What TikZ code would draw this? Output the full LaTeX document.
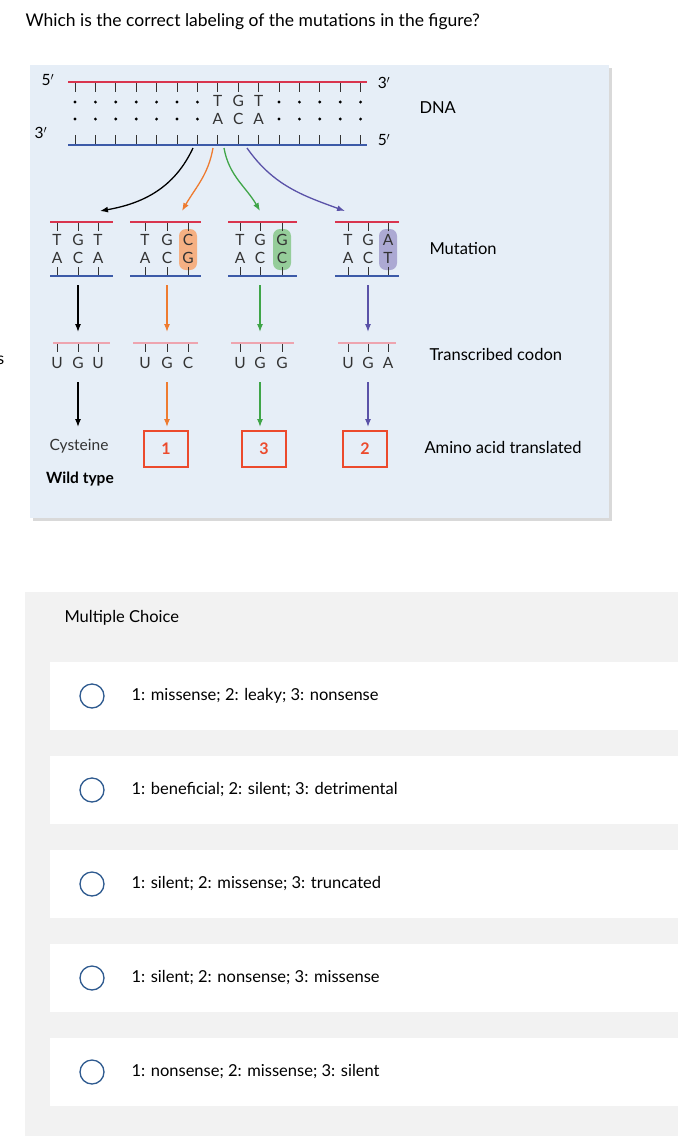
\documentclass[tikz,border=0pt]{standalone}
\usepackage{fontspec}
\setmainfont{Lato}
\usetikzlibrary{arrows.meta}
\begin{document}
\begin{tikzpicture}[x=1pt,y=-1pt,
 base/.style={font=\fontsize{15.5}{17}\selectfont},
 lab/.style={font=\fontsize{16.5}{19}\selectfont,anchor=west},
 nt/.style={font=\fontsize{15.5}{15}\selectfont,inner sep=0pt,text=black!80},
 red/.style={draw=dnared,line width=2.8pt},
 blue/.style={draw=dnablue,line width=2.8pt},
 tk/.style={draw=black!80,line width=0.9pt},
 opt/.style={fill=white,draw=none},
 arr/.style={-{Latex[length=8pt,width=6pt]},line width=1.3pt},
 circ/.style={draw=circblue,line width=1.3pt},
 numbox/.style={draw=boxred,line width=2pt,minimum width=44pt,minimum height=36pt,text=boxred,font=\bfseries\fontsize{16}{16}\selectfont}]
\definecolor{dnared}{HTML}{D9344E}
\definecolor{dnablue}{HTML}{3C5AA8}
\definecolor{panel}{HTML}{E6EEF7}
\definecolor{cor}{HTML}{EE7B30}
\definecolor{cgr}{HTML}{3FA548}
\definecolor{cpu}{HTML}{5A52A8}
\definecolor{boxred}{HTML}{EC4A2C}
\definecolor{circblue}{HTML}{2E5A8F}
\useasboundingbox (0,0) rectangle (678,1136);
\fill[white] (0,0) rectangle (678,1136);
\node[lab,font=\fontsize{17.5}{19}\selectfont] (q) at (22,22) {Which is the correct labeling of the mutations in the figure?};
\node[lab,inner sep=0pt] (s) at (-3,360) {s};
% panel
\fill[black!15] (33,68) rectangle (612,521);
\fill[panel] (30,65) rectangle (609,518);
% top DNA
\draw[red] (68,82) -- (367,82);
\draw[blue] (68,145) -- (367,145);
\foreach \i in {0,...,14}{
 \pgfmathsetmacro\xx{75+\i*20.4}
 \draw[tk] (\xx,83) -- (\xx,92);
 \draw[tk] (\xx,135) -- (\xx,144);
 \ifnum\i<7 \fill (\xx,102) circle (1.6); \fill (\xx,119) circle (1.6);\fi
 \ifnum\i>9 \fill (\xx,102) circle (1.6); \fill (\xx,119) circle (1.6);\fi
}
\node[nt] at (217.8,101) {T};\node[nt] at (238.2,101) {G};\node[nt] at (258.6,101) {T};
\node[nt] at (217.8,119) {A};\node[nt] at (238.2,119) {C};\node[nt] at (258.6,119) {A};
\node[base] at (48,80) {5$'$};\node[base] at (384,83) {3$'$};
\node[base] at (41,133) {3$'$};\node[base] at (384,140) {5$'$};
\coordinate (d1) at (193,148);\coordinate (d2) at (213,148);\coordinate (d3) at (224,148);\coordinate (d4) at (247,148);
% mutation blocks
\foreach \n/\xa/\xb/\pa/\pb/\pc/\ta/\tb/\tc/\ba/\bb/\bc/\hc in {
 a/50/113/57/78/98/T/G/T/A/C/A/none,
 b/130/201/145/167/188/T/G/C/A/C/G/cor!60,
 c/228/297/240/260/282/T/G/G/A/C/C/cgr!55,
 e/335/399/348/368/388/T/G/A/A/C/T/cpu!50}{
 \path[fill=\hc,rounded corners=7pt] (\pc-9,229) rectangle (\pc+9,270);
 \draw[red] (\xa,222) -- (\xb,222);
 \draw[blue] (\xa,276) -- (\xb,276);
 \foreach \p in {\pa,\pb,\pc}{\draw[tk] (\p,223) -- (\p,231);\draw[tk] (\p,267) -- (\p,275);}
 \node[nt] at (\pa,240) {\ta};\node[nt] at (\pb,240) {\tb};\node[nt] at (\pc,240) {\tc};
 \node[nt] at (\pa,258) {\ba};\node[nt] at (\pb,258) {\bb};\node[nt] at (\pc,258) {\bc};
 \coordinate (m\n) at (\pb,285);
 \draw[dnared!45,line width=2.8pt] (\xa+3,343) -- (\xb-3,343);
 \foreach \p in {\pa,\pb,\pc}{\draw[tk] (\p,344) -- (\p,352);}
 \coordinate (r\n) at (\pb,332);
 \coordinate (u\n) at (\pb,382);
 \coordinate (v\n) at (\pb,427);
}
\node[nt] at (57,363) {U};\node[nt] at (78,363) {G};\node[nt] at (98,363) {U};
\node[nt] at (145,363) {U};\node[nt] at (167,363) {G};\node[nt] at (188,363) {C};
\node[nt] at (240,363) {U};\node[nt] at (260,363) {G};\node[nt] at (282,363) {G};
\node[nt] at (348,363) {U};\node[nt] at (368,363) {G};\node[nt] at (388,363) {A};
% curved arrows
\draw[arr,black] (d1) to[out=245,in=10] (100,211);
\draw[arr,cor] (d2) to[out=260,in=60] (182,211);
\draw[arr,cgr] (d3) to[out=280,in=120] (260,211);
\draw[arr,cpu] (d4) to[out=305,in=160] (345,211);
% vertical arrows
\draw[arr,black] (ma) -- (ra);
\draw[arr,cor] (mb) -- (rb);
\draw[arr,cgr] (mc) -- (rc);
\draw[arr,cpu] (me) -- (re);
\draw[arr,black] (ua) -- (va);
\draw[arr,cor] (ub) -- (vb);
\draw[arr,cgr] (uc) -- (vc);
\draw[arr,cpu] (ue) -- (ve);
\node[base,text=black!80] (cys) at (79,446) {Cysteine};
\node[base,font=\bfseries\fontsize{15.5}{17}\selectfont] (wt) at (80,479) {Wild type};
\node[numbox] (n1) at (166,449) {1};
\node[numbox] (n3) at (264,449) {3};
\node[numbox] (n2) at (365,449) {2};
\node[lab] (l1) at (416,108) {DNA};
\node[lab] (l2) at (426,249) {Mutation};
\node[lab] (l3) at (426,354) {Transcribed codon};
\node[lab] (l4) at (421,447) {Amino acid translated};
% multiple choice
\fill[black!5] (25,592) rectangle (678,1136);
\node[lab] (mch) at (61,618) {Multiple Choice};
\foreach \y/\t in {696/{1: missense; 2: leaky; 3: nonsense},
 790/{1: beneficial; 2: silent; 3: detrimental},
 884/{1: silent; 2: missense; 3: truncated},
 978/{1: silent; 2: nonsense; 3: missense},
 1072/{1: nonsense; 2: missense; 3: silent}}{
 \fill[opt] (50,\y-34) rectangle (678,\y+34);
 \draw[circ] (92,\y) circle (12);
 \node[lab] at (128,\y) {\t};
}
\end{tikzpicture}
\end{document}
